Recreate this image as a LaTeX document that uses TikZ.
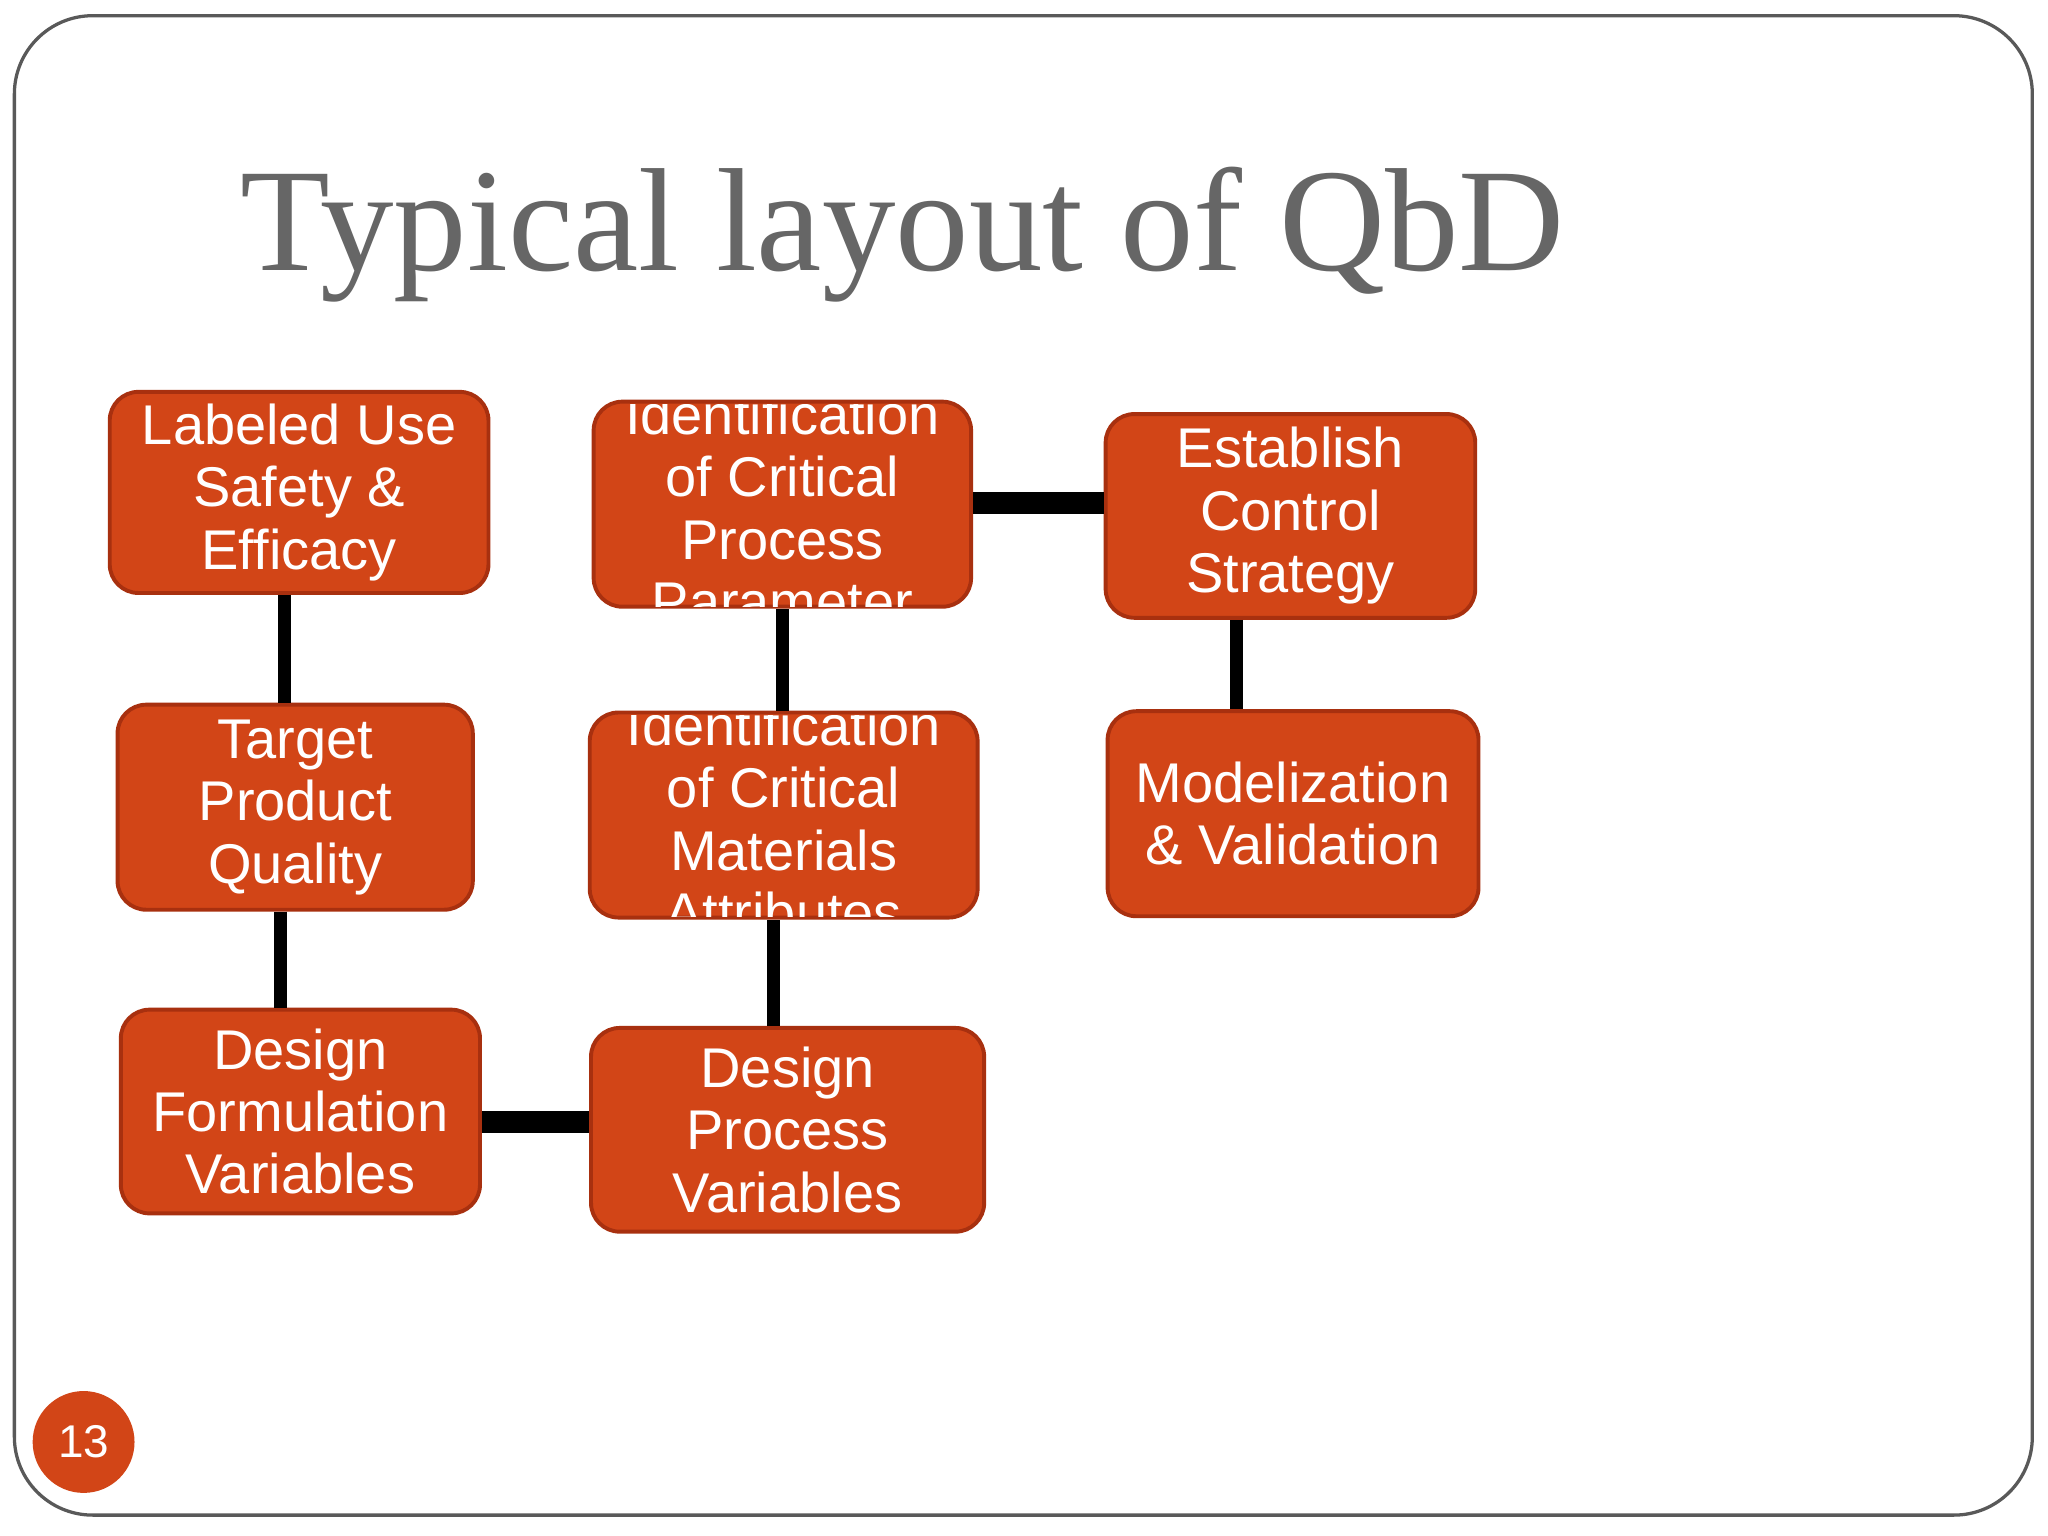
\documentclass[tikz,border=0pt]{standalone}
\usepackage{fontspec}
\setmainfont{Liberation Serif}
\newfontfamily\boxfont{Liberation Sans}
\definecolor{boxfill}{HTML}{D24517}
\definecolor{boxedge}{HTML}{A8300F}
\definecolor{titlegray}{HTML}{666666}
\begin{document}
\begin{tikzpicture}[x=0.1mm,y=-0.1mm,
  box/.style={draw=boxedge,line width=0.3mm,fill=boxfill,rounded corners=2.2mm,inner sep=0pt,
    text=white,align=center,font=\boxfont\fontsize{12.2}{13.6}\selectfont},
  vlink/.style={line width=1mm,draw=black},
  hlink/.style={line width=1.7mm,draw=black}]
\useasboundingbox (0,0) rectangle (1568,1176);
\fill[white] (0,0) rectangle (1568,1176);
\draw[gray!70!black,line width=0.25mm,rounded corners=6mm] (11,12) rectangle (1556,1160);
\node[text=titlegray,font=\fontsize{32}{36}\selectfont,anchor=west] (title) at (172,180) {Typical layout of QbD};
% links first (behind boxes)
\coordinate (a1) at (218,454); \coordinate (a2) at (218,540);
\coordinate (b1) at (215,697); \coordinate (b2) at (215,773);
\coordinate (c1) at (368,859); \coordinate (c2) at (453,859);
\coordinate (f1) at (592,787); \coordinate (f2) at (592,703);
\coordinate (e1) at (599,546); \coordinate (e2) at (599,465);
\coordinate (d1) at (744,385); \coordinate (d2) at (847,385);
\coordinate (g1) at (947,473); \coordinate (g2) at (947,545);
\node[box,minimum width=29mm,minimum height=15.4mm] (A) at (229,377) {Labeled Use\\Safety \&\\Efficacy};
\node[box,minimum width=27.2mm,minimum height=15.7mm] (B) at (226,618) {Target\\Product\\Quality};
\node[box,minimum width=27.5mm,minimum height=15.6mm] (C) at (230,851) {Design\\Formulation\\Variables};
\begin{scope}
\node[box,minimum width=28.9mm,minimum height=15.7mm] (D) at (599,386) {};
\clip[rounded corners=2.2mm] (456,309) rectangle (743,464);
\node[text=white,align=center,font=\boxfont\fontsize{12.2}{13.6}\selectfont] (Dt) at (599,389) {Identification\\of Critical\\Process\\Parameter};
\end{scope}
\begin{scope}
\node[box,minimum width=29.7mm,minimum height=15.7mm] (E) at (600,624) {};
\clip[rounded corners=2.2mm] (453,547) rectangle (748,702);
\node[text=white,align=center,font=\boxfont\fontsize{12.2}{13.6}\selectfont] (Et) at (600,627) {Identification\\of Critical\\Materials\\Attributes};
\end{scope}
\node[box,minimum width=30.1mm,minimum height=15.6mm] (F) at (603,865) {Design\\Process\\Variables};
\node[box,minimum width=28.3mm,minimum height=15.6mm] (G) at (988,395) {Establish\\Control\\Strategy};
\node[box,minimum width=28.4mm,minimum height=15.7mm] (H) at (990,623) {Modelization\\\& Validation};
\draw[vlink] (A.south -| a1) -- (B.north -| a1);
\draw[vlink] (B.south -| b1) -- (C.north -| b1);
\draw[hlink] (C.east |- c1) -- (F.west |- c1);
\draw[vlink] (F.north -| f1) -- (E.south -| f1);
\draw[vlink] (E.north -| e1) -- (D.south -| e1);
\draw[hlink] (D.east |- d1) -- (G.west |- d1);
\draw[vlink] (G.south -| g1) -- (H.north -| g1);
\node[circle,fill=boxfill,minimum size=7.8mm,inner sep=0pt,text=white,font=\boxfont\fontsize{10}{12}\selectfont] (num) at (64,1104) {13};
\end{tikzpicture}
\end{document}
